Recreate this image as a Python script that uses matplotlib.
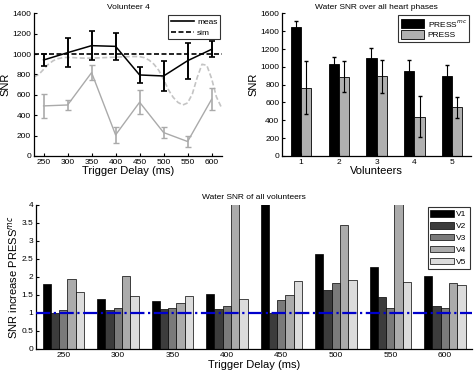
import matplotlib
matplotlib.use("Agg")
import matplotlib.pyplot as plt
import numpy as np

plt.rcParams['font.family'] = ['Liberation Sans', 'DejaVu Sans']

# ---------------- data ----------------
delays = [250, 300, 350, 400, 450, 500, 550, 600]

# Volunteer 4 (top left)
meas_black = [942, 1014, 1083, 1076, 795, 785, 935, 1047]
meas_black_err = [60, 140, 140, 130, 80, 150, 175, 80]
meas_gray = [491, 500, 818, 206, 527, 229, 141, 556]
meas_gray_err = [115, 50, 75, 75, 120, 50, 50, 110]
sim_level = 1000
sim_t = [230, 240, 250, 260, 270, 280, 290, 300, 310, 320, 330, 340, 350,
         360, 370, 380, 390, 400, 410, 420, 430, 440, 450, 460, 470, 480,
         490, 500, 510, 520, 530, 540, 550, 560, 570, 580, 590, 600, 610, 620]
sim_gray = [775, 800, 850, 900, 935, 955, 965, 968, 966, 963, 961, 960, 960,
            962, 964, 966, 968, 970, 972, 974, 975, 976, 975, 965, 940, 900,
            840, 750, 650, 575, 525, 500, 520, 610, 770, 900, 890, 760, 580, 480]

# Water SNR over all heart phases (top right)
volunteers = [1, 2, 3, 4, 5]
press_mc = [1443, 1028, 1103, 957, 897]
press_mc_err = [75, 85, 105, 120, 120]
press = [766, 890, 893, 441, 546]
press_err = [300, 170, 185, 230, 120]

# SNR increase of all volunteers (bottom)
v_names = ['V1', 'V2', 'V3', 'V4', 'V5']
V1 = [1.81, 1.38, 1.34, 1.52, 4.6, 2.64, 2.29, 2.02]
V2 = [1.00, 1.08, 1.11, 1.10, 1.01, 1.64, 1.43, 1.18]
V3 = [1.08, 1.15, 1.15, 1.19, 1.36, 1.84, 1.15, 1.15]
V4 = [1.94, 2.04, 1.29, 4.6, 1.49, 3.43, 4.6, 1.84]
V5 = [1.59, 1.46, 1.46, 1.39, 1.90, 1.92, 1.85, 1.78]
ref_level = 1.0

# ---------------- figure ----------------
fig = plt.figure(figsize=(4.74, 3.72), dpi=100)

tick_fs = 6
lab_fs = 8
title_fs = 6


def style(ax):
    ax.spines['top'].set_visible(False)
    ax.spines['right'].set_visible(False)
    ax.tick_params(direction='in', length=2.5, width=0.8, labelsize=tick_fs, pad=2)
    for s in ('left', 'bottom'):
        ax.spines[s].set_linewidth(0.9)


# top-left
ax1 = fig.add_axes([0.0717, 0.581, 0.397, 0.383])
ax1.plot(sim_t, sim_gray, color='#c4c4c4', ls=(0, (3, 1.5)), lw=1.2, zorder=1)
ax1.axhline(sim_level, color='black', ls=(0, (3, 1.5)), lw=1.2, zorder=2)
ax1.errorbar(delays, meas_gray, yerr=meas_gray_err, color='#aaaaaa', lw=1.0,
             elinewidth=1.2, capsize=2.5, zorder=3)
ax1.errorbar(delays, meas_black, yerr=meas_black_err, color='black', lw=1.1,
             elinewidth=1.4, capsize=2.5, capthick=1.2, zorder=4)
ax1.set_xlim(230, 622)
ax1.set_ylim(0, 1400)
ax1.set_xticks(delays)
ax1.set_yticks(np.arange(0, 1401, 200))
ax1.set_xlabel('Trigger Delay (ms)', fontsize=lab_fs, labelpad=0)
ax1.set_ylabel('SNR', fontsize=lab_fs, labelpad=1)
ax1.set_title('Volunteer 4', fontsize=title_fs, pad=3)
style(ax1)
h1, = ax1.plot([], [], color='black', lw=1.2)
h2, = ax1.plot([], [], color='black', lw=1.2, ls=(0, (3, 1.5)))
leg = ax1.legend([h1, h2], ['meas', 'sim'], loc='upper right', fontsize=6,
                 frameon=True, fancybox=False, edgecolor='black',
                 borderpad=0.35, labelspacing=0.35, handlelength=2.8,
                 handletextpad=0.4, borderaxespad=0.2)
leg.get_frame().set_linewidth(0.8)

# top-right
ax2 = fig.add_axes([0.595, 0.581, 0.399, 0.383])
x = np.array(volunteers)
bw = 0.27
ax2.bar(x - bw / 2, press_mc, bw, color='black', edgecolor='black', lw=0.6,
        label='PRESS$^{mc}$')
ax2.bar(x + bw / 2, press, bw, color='#b0b0b0', edgecolor='black', lw=0.6,
        label='PRESS')
ax2.errorbar(x - bw / 2, press_mc, yerr=press_mc_err, fmt='none', ecolor='black',
             elinewidth=0.8, capsize=1.5)
ax2.errorbar(x + bw / 2, press, yerr=press_err, fmt='none', ecolor='black',
             elinewidth=0.8, capsize=1.5)
ax2.set_xlim(0.5, 5.5)
ax2.set_ylim(0, 1600)
ax2.set_xticks(volunteers)
ax2.set_yticks(np.arange(0, 1601, 200))
ax2.set_xlabel('Volunteers', fontsize=lab_fs, labelpad=0)
ax2.set_ylabel('SNR', fontsize=lab_fs, labelpad=1)
ax2.set_title('Water SNR over all heart phases', fontsize=title_fs, pad=3)
style(ax2)
leg = ax2.legend(loc='upper right', fontsize=6, frameon=True, fancybox=False,
                 edgecolor='black', borderpad=0.3, labelspacing=0.2,
                 handlelength=2.8, handleheight=1.2, handletextpad=0.4,
                 borderaxespad=0.2)
leg.get_frame().set_linewidth(0.8)

# bottom
ax3 = fig.add_axes([0.076, 0.062, 0.920, 0.387])
series = [V1, V2, V3, V4, V5]
colors = ['#000000', '#3c3c3c', '#7a7a7a', '#ababab', '#dcdcdc']
w = 7.6
for i, (vals, c, n) in enumerate(zip(series, colors, v_names)):
    ax3.bar(np.array(delays) + (i - 2) * w, vals, w, color=c, edgecolor='black',
            lw=0.5, label=n)
ax3.axhline(ref_level, color='#0000cc', ls='-.', lw=1.6, zorder=5)
ax3.set_xlim(225, 625)
ax3.set_ylim(0, 4)
ax3.set_xticks(delays)
ax3.set_yticks([0, 0.5, 1, 1.5, 2, 2.5, 3, 3.5, 4])
ax3.set_yticklabels(['0', '0.5', '1', '1.5', '2', '2.5', '3', '3.5', '4'])
ax3.set_xlabel('Trigger Delay (ms)', fontsize=lab_fs, labelpad=1)
ax3.set_ylabel('SNR increase PRESS$^{mc}$', fontsize=lab_fs, labelpad=1)
ax3.set_title('Water SNR of all volunteers', fontsize=title_fs, pad=4)
style(ax3)
ax3.tick_params(axis='x', length=0)
leg = ax3.legend(loc='upper right', fontsize=6, frameon=True, fancybox=False,
                 edgecolor='black', borderpad=0.35, labelspacing=0.45,
                 handlelength=2.8, handleheight=0.8, handletextpad=0.3,
                 borderaxespad=0.3)
leg.get_frame().set_linewidth(0.8)

fig.savefig('out.png', dpi=100)
